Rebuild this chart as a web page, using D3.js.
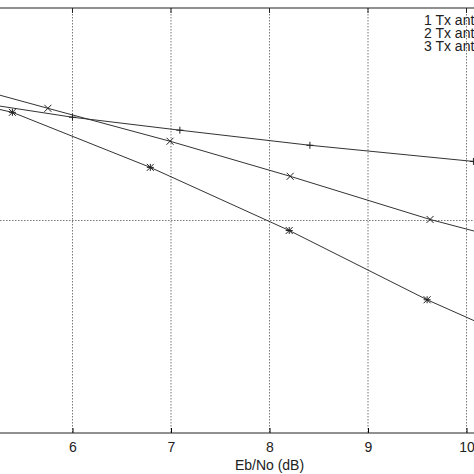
<!DOCTYPE html><html><head><script src="https://cdn.jsdelivr.net/npm/d3@7"></script>
<style>body{margin:0;background:#fff}</style></head><body><svg width="474" height="474"></svg>
<script>
const xTicks=[6,7,8,9,10];
const legendLabels=["1 Tx ant","2 Tx ant","3 Tx ant"];
const s1x=[5,6,7.09,8.41,10.07], s1y=[-1.443,-1.514,-1.575,-1.646,-1.722];
const s2x=[5,5.75,6.99,8.21,9.63,10.08], s2y=[-1.377,-1.472,-1.627,-1.792,-1.995,-2.05];
const s3x=[5,5.39,6.79,8.2,9.6,10.08], s3y=[-1.45,-1.491,-1.75,-2.047,-2.373,-2.472];
const svg=d3.select("svg");
const x=d3.scaleLinear().domain([5.264,10.076]).range([0,474]);
const y=d3.scaleLog().domain([1e-3,1e-1]).range([433,8]);
const F="Liberation Sans, Arial";
const g=svg.append("g");
xTicks.forEach(t=>g.append("line").attr("x1",x(t)).attr("x2",x(t)).attr("y1",8).attr("y2",433).attr("stroke","#777").attr("stroke-dasharray","1.5,1.5"));
g.append("line").attr("x1",0).attr("x2",474).attr("y1",y(1e-2)).attr("y2",y(1e-2)).attr("stroke","#777").attr("stroke-dasharray","1.5,1.5");
const ax=svg.append("g").attr("transform","translate(0,433)").call(d3.axisBottom(x).tickValues(xTicks).tickSize(-5).tickPadding(9).tickFormat(d3.format("d")));
ax.select(".domain").remove();
ax.selectAll("text").attr("font-family",F).attr("font-size",14).attr("fill","#222");
svg.append("line").attr("x1",0).attr("x2",474).attr("y1",433).attr("y2",433).attr("stroke","#222").attr("stroke-width",1.2);
svg.append("line").attr("x1",0).attr("x2",474).attr("y1",8).attr("y2",8).attr("stroke","#222").attr("stroke-width",1.2);
xTicks.forEach(t=>svg.append("line").attr("x1",x(t)).attr("x2",x(t)).attr("y1",8).attr("y2",13).attr("stroke","#222"));
svg.append("text").attr("x",x(8)).attr("y",470).attr("text-anchor","middle").attr("font-family",F).attr("font-size",14).attr("fill","#222").text("Eb/No (dB)");
const line=d3.line().x(d=>x(d[0])).y(d=>y(Math.pow(10,d[1])));
const series=[[s1x,s1y,"+"],[s2x,s2y,"x"],[s3x,s3y,"*"]];
series.forEach(([xs,ys,m])=>{
  const pts=xs.map((v,i)=>[v,ys[i]]);
  svg.append("path").attr("d",line(pts)).attr("fill","none").attr("stroke","#333").attr("stroke-width",1);
  pts.slice(1).forEach(p=>{
    if(m!=="+"&&p[0]>10.07) return;
    const cx=x(p[0]),cy=y(Math.pow(10,p[1])),r=3.5;
    const gm=svg.append("g").attr("stroke","#222").attr("stroke-width",1);
    if(m!=="x"){gm.append("line").attr("x1",cx-r).attr("x2",cx+r).attr("y1",cy).attr("y2",cy);gm.append("line").attr("x1",cx).attr("x2",cx).attr("y1",cy-r).attr("y2",cy+r);}
    if(m!=="+"){gm.append("line").attr("x1",cx-r).attr("x2",cx+r).attr("y1",cy-r).attr("y2",cy+r);gm.append("line").attr("x1",cx-r).attr("x2",cx+r).attr("y1",cy+r).attr("y2",cy-r);}
  });
});
legendLabels.forEach((l,i)=>svg.append("text").attr("x",424).attr("y",25+i*13).attr("font-family",F).attr("font-size",14).attr("fill","#222").text(l));
</script></body></html>
